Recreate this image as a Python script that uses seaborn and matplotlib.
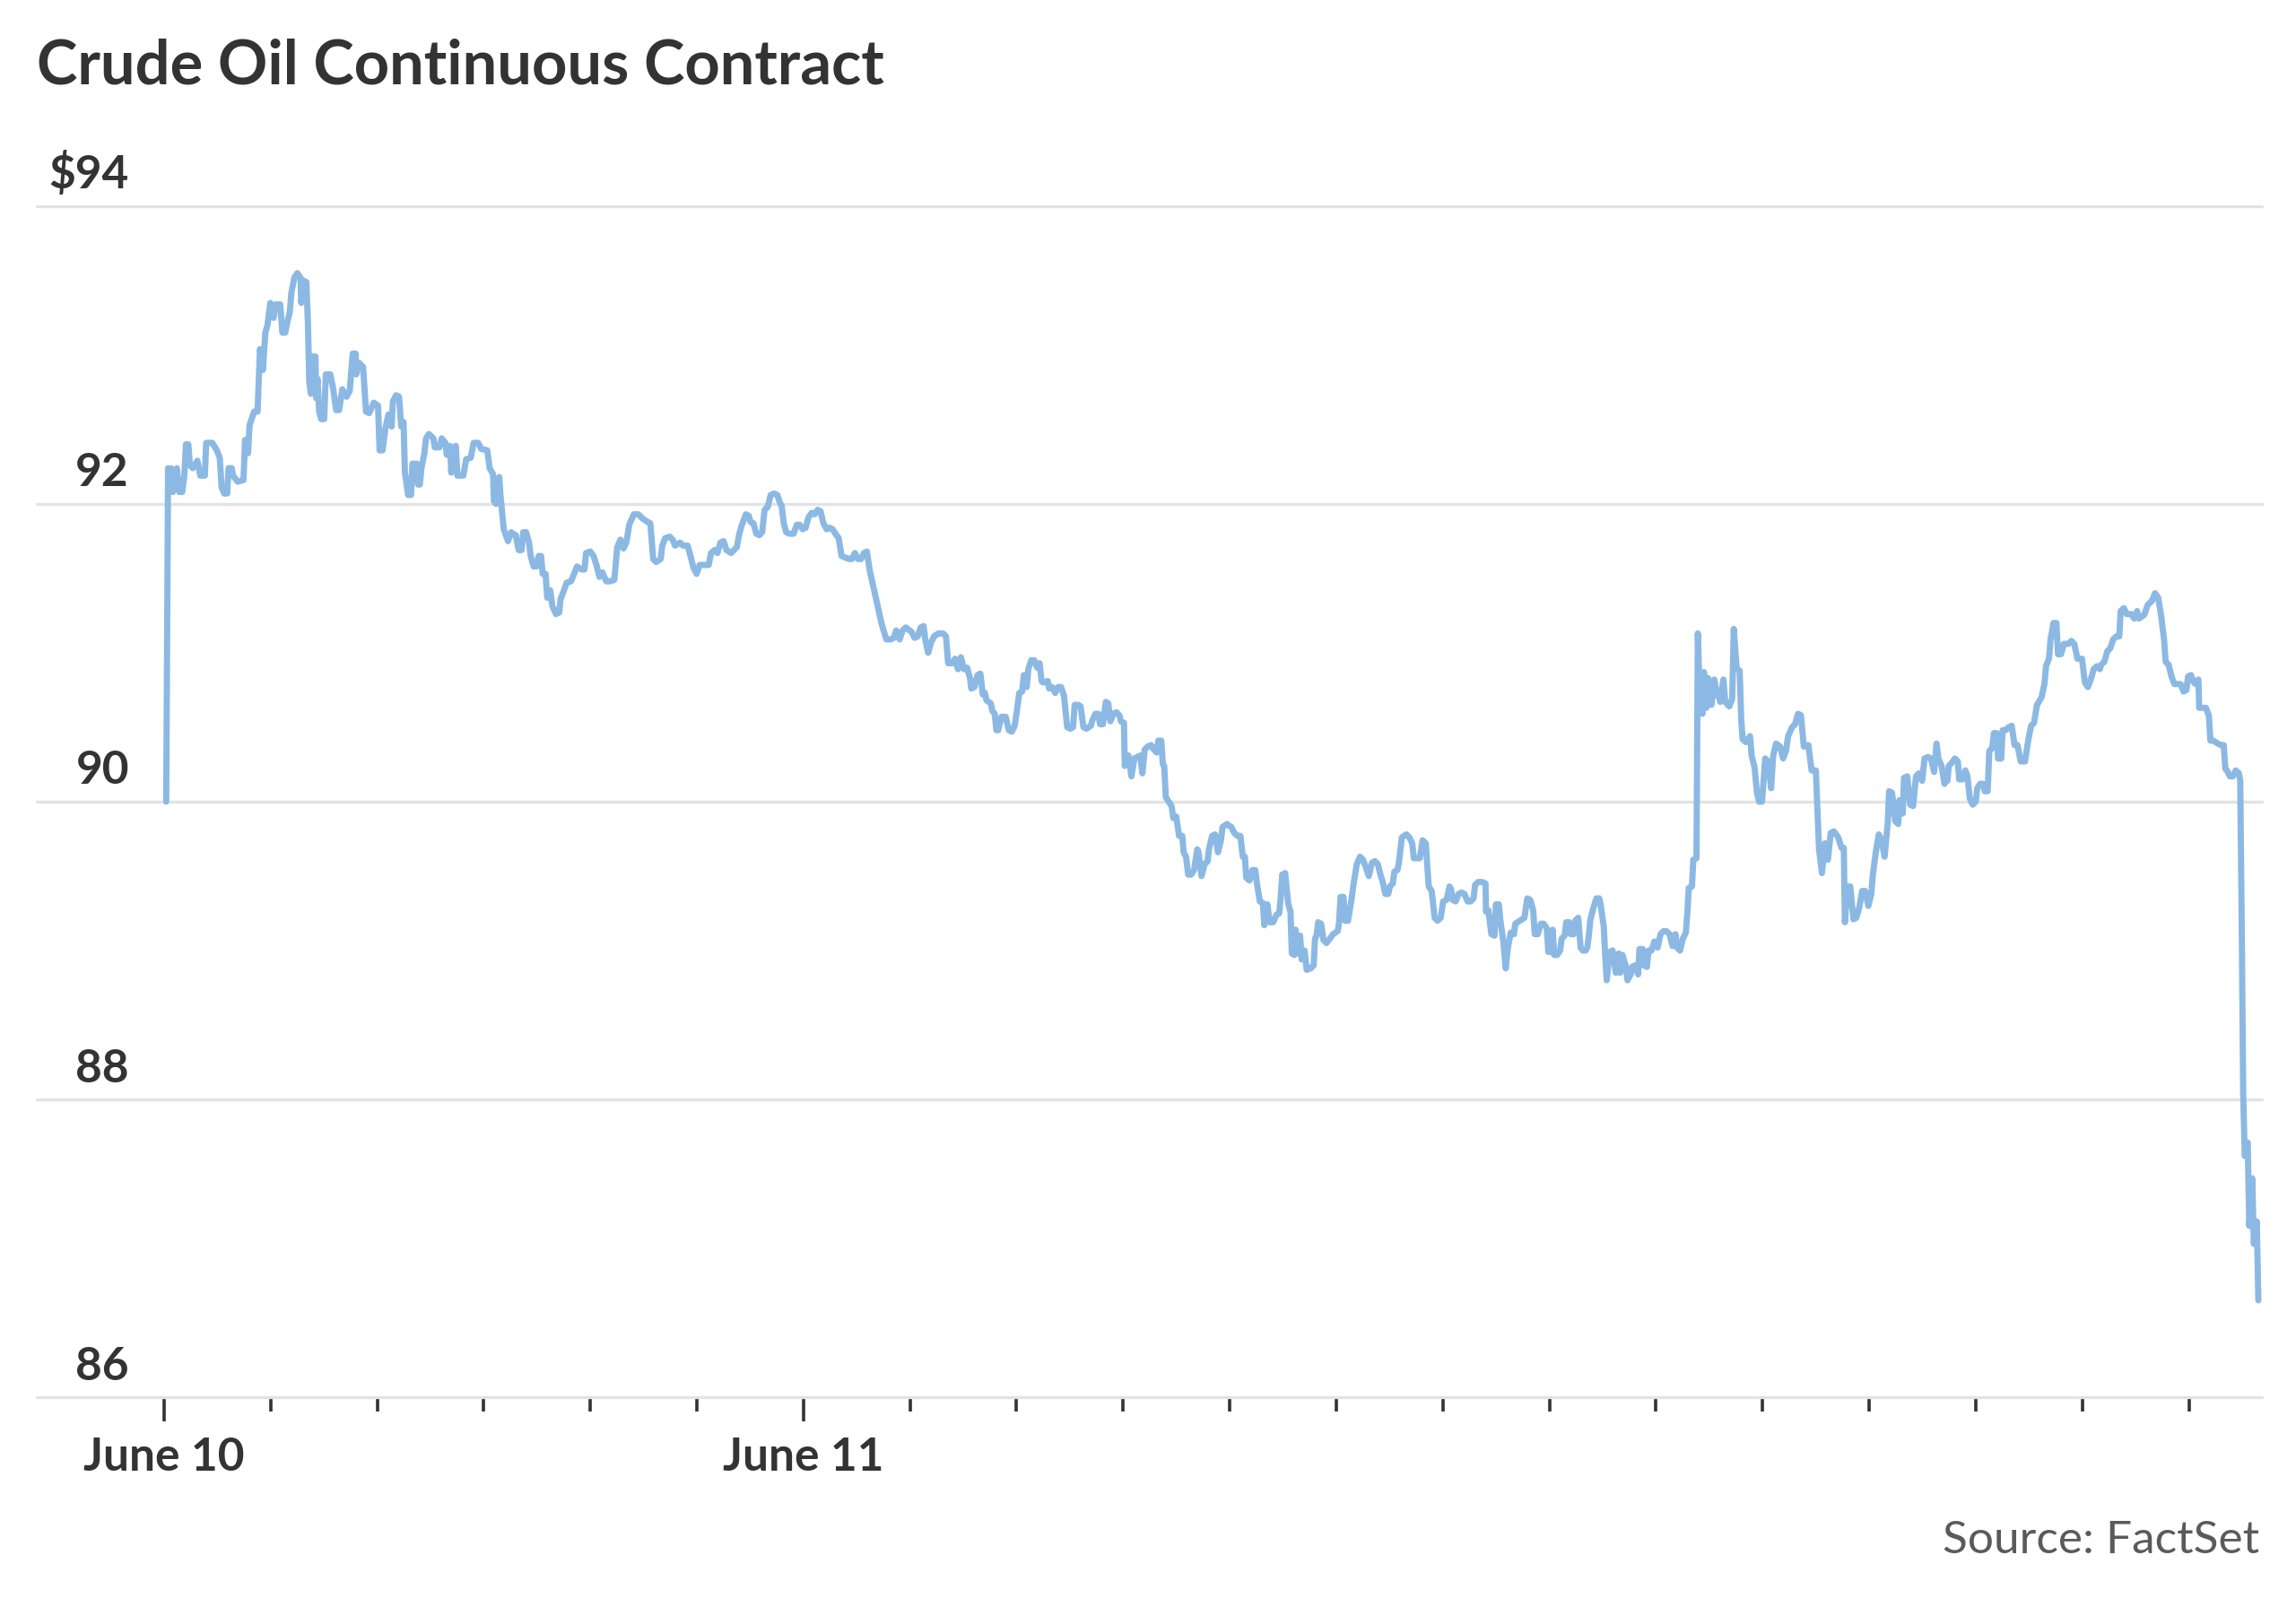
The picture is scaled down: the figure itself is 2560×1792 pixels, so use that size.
import pandas as pd
import seaborn as sns
import matplotlib.pyplot as plt
import matplotlib.transforms as mtransforms

# Crude oil price, as (hours since June 10 00:00, price $)
june10_early = [
    (0.08, 90.00), (0.15, 92.24), (0.18, 92.08), (0.26, 92.24), (0.33, 92.08), (0.40, 92.22),
    (0.48, 92.24), (0.57, 92.08), (0.68, 92.08), (0.76, 92.19), (0.82, 92.40), (0.91, 92.40),
    (0.97, 92.26), (1.08, 92.24), (1.25, 92.29), (1.36, 92.19), (1.53, 92.19), (1.58, 92.41),
    (1.81, 92.41), (1.98, 92.36), (2.09, 92.31), (2.16, 92.11), (2.26, 92.07), (2.37, 92.07),
    (2.42, 92.24), (2.54, 92.24), (2.59, 92.19), (2.76, 92.15), (2.98, 92.16), (3.04, 92.43),
    (3.15, 92.34), (3.21, 92.53), (3.38, 92.62), (3.51, 92.62), (3.54, 92.77), (3.60, 93.04),
    (3.71, 92.90), (3.80, 93.15), (3.88, 93.20), (3.99, 93.35), (4.11, 93.25), (4.18, 93.34),
    (4.36, 93.34), (4.44, 93.15), (4.55, 93.15), (4.61, 93.21), (4.72, 93.29), (4.78, 93.42),
    (4.89, 93.52), (5.00, 93.55), (5.12, 93.52), (5.15, 93.35), (5.23, 93.50), (5.34, 93.49),
    (5.40, 93.21), (5.45, 92.82), (5.51, 92.74), (5.57, 92.99), (5.68, 92.99), (5.71, 92.71),
    (5.76, 92.84), (5.82, 92.62), (5.90, 92.57), (6.01, 92.57), (6.07, 92.87), (6.24, 92.87),
    (6.35, 92.77), (6.46, 92.63), (6.57, 92.63), (6.69, 92.77), (6.85, 92.72), (6.97, 92.76),
    (7.08, 93.01), (7.19, 93.01), (7.21, 92.87), (7.30, 92.95), (7.47, 92.92), (7.58, 92.62),
    (7.70, 92.61), (7.87, 92.68), (8.03, 92.66), (8.09, 92.36), (8.20, 92.36), (8.31, 92.51),
    (8.42, 92.60), (8.54, 92.52), (8.59, 92.69), (8.71, 92.73), (8.82, 92.72), (8.90, 92.52),
    (8.99, 92.55), (9.04, 92.21), (9.16, 92.06), (9.27, 92.06), (9.32, 92.27), (9.49, 92.27),
    (9.53, 92.13), (9.60, 92.13), (9.66, 92.24), (9.77, 92.34), (9.83, 92.44), (9.94, 92.47),
    (10.11, 92.44), (10.16, 92.38), (10.33, 92.38), (10.42, 92.44), (10.56, 92.41), (10.61, 92.33),
    (10.73, 92.39), (10.78, 92.21), (10.84, 92.30), (10.95, 92.39), (11.01, 92.19), (11.23, 92.19),
    (11.34, 92.30), (11.51, 92.31), (11.62, 92.41), (11.79, 92.41), (11.90, 92.37), (12.13, 92.36),
    (12.22, 92.24), (12.35, 92.20), (12.38, 92.02), (12.46, 92.00), (12.58, 92.18), (12.63, 92.05),
    (12.75, 91.83), (12.91, 91.75),
]

june10_late = [
    (13.03, 91.81), (13.09, 91.80), (13.20, 91.79), (13.31, 91.69), (13.42, 91.69), (13.48, 91.81),
    (13.59, 91.81), (13.70, 91.74), (13.76, 91.65), (13.87, 91.58), (13.98, 91.58), (14.06, 91.65),
    (14.15, 91.65), (14.21, 91.53), (14.32, 91.53), (14.38, 91.37), (14.49, 91.42), (14.58, 91.31),
    (14.71, 91.26), (14.83, 91.27), (14.88, 91.36), (14.99, 91.41), (15.11, 91.47), (15.27, 91.48),
    (15.39, 91.53), (15.50, 91.58), (15.67, 91.56), (15.78, 91.56), (15.84, 91.67), (16.00, 91.68),
    (16.12, 91.65), (16.23, 91.59), (16.34, 91.51), (16.45, 91.54), (16.60, 91.48), (16.73, 91.48),
    (16.90, 91.49), (17.01, 91.71), (17.13, 91.76), (17.24, 91.70), (17.35, 91.74), (17.46, 91.86),
    (17.63, 91.93), (17.80, 91.93), (17.97, 91.90), (18.14, 91.88), (18.25, 91.87), (18.36, 91.63),
    (18.47, 91.61), (18.64, 91.63), (18.70, 91.72), (18.81, 91.77), (18.98, 91.78), (19.09, 91.76),
    (19.18, 91.72), (19.37, 91.74), (19.48, 91.72), (19.65, 91.72), (19.76, 91.65), (19.87, 91.57),
    (19.99, 91.53), (20.10, 91.59), (20.21, 91.59), (20.44, 91.59), (20.53, 91.67), (20.66, 91.69),
    (20.77, 91.67), (20.88, 91.74), (21.00, 91.75), (21.11, 91.69), (21.28, 91.67), (21.39, 91.69),
    (21.50, 91.71), (21.58, 91.79), (21.67, 91.85), (21.84, 91.93), (21.95, 91.92), (22.01, 91.88),
    (22.12, 91.87), (22.23, 91.80), (22.34, 91.79), (22.45, 91.81), (22.54, 91.96), (22.66, 91.98),
    (22.77, 92.06), (22.90, 92.07), (23.02, 92.06), (23.13, 92.00), (23.18, 91.99), (23.26, 91.87),
    (23.35, 91.81), (23.46, 91.80), (23.63, 91.80), (23.75, 91.86), (23.86, 91.86), (23.97, 91.83),
]

june11_early = [
    (24.08, 91.84), (24.19, 91.91), (24.31, 91.94), (24.42, 91.93), (24.53, 91.96), (24.64, 91.95),
    (24.75, 91.87), (24.87, 91.83), (24.98, 91.84), (25.09, 91.83), (25.20, 91.80), (25.32, 91.77),
    (25.43, 91.65), (25.57, 91.64), (25.71, 91.63), (25.82, 91.63), (25.93, 91.67), (26.05, 91.63),
    (26.16, 91.63), (26.27, 91.67), (26.38, 91.68), (26.49, 91.55), (26.94, 91.19), (27.11, 91.09),
    (27.28, 91.09), (27.39, 91.10), (27.48, 91.15), (27.61, 91.09), (27.72, 91.15), (27.84, 91.17),
    (28.06, 91.14), (28.17, 91.10), (28.29, 91.11), (28.40, 91.17), (28.51, 91.18), (28.57, 91.09),
    (28.68, 91.00), (28.79, 91.07), (28.90, 91.11), (29.07, 91.13), (29.24, 91.13), (29.35, 91.11),
    (29.43, 90.93), (29.58, 90.93), (29.69, 90.96), (29.80, 90.89), (29.91, 90.97), (30.02, 90.89),
    (30.14, 90.90), (30.25, 90.83), (30.30, 90.76), (30.42, 90.77), (30.53, 90.85), (30.64, 90.86),
    (30.73, 90.72), (30.81, 90.73), (30.87, 90.68), (31.03, 90.66), (31.09, 90.61), (31.18, 90.59),
    (31.24, 90.48), (31.31, 90.48), (31.43, 90.57), (31.59, 90.57), (31.71, 90.48), (31.82, 90.47),
    (31.93, 90.51), (32.01, 90.61), (32.10, 90.73), (32.21, 90.74), (32.27, 90.85), (32.38, 90.77),
    (32.44, 90.89), (32.55, 90.95), (32.66, 90.95), (32.77, 90.90), (32.86, 90.93), (32.94, 90.81),
    (33.00, 90.80), (33.17, 90.81), (33.22, 90.76), (33.33, 90.77), (33.45, 90.73), (33.56, 90.77),
    (33.67, 90.77), (33.78, 90.71), (33.90, 90.50), (34.01, 90.49), (34.12, 90.50), (34.18, 90.65),
    (34.32, 90.65), (34.40, 90.64), (34.51, 90.50), (34.62, 90.49), (34.79, 90.51), (34.85, 90.55),
    (34.96, 90.59), (35.07, 90.59), (35.13, 90.52), (35.24, 90.52), (35.35, 90.67), (35.44, 90.66),
    (35.52, 90.54), (35.63, 90.59), (35.75, 90.60), (35.86, 90.58), (35.91, 90.54), (36.03, 90.53),
    (36.06, 90.24), (36.14, 90.31), (36.20, 90.31), (36.31, 90.17), (36.42, 90.29), (36.53, 90.30),
    (36.64, 90.31), (36.72, 90.19), (36.81, 90.35), (36.92, 90.37), (37.04, 90.38), (37.15, 90.35),
    (37.26, 90.33), (37.32, 90.41), (37.43, 90.41), (37.49, 90.25), (37.54, 90.24), (37.60, 90.03),
    (37.71, 90.00), (37.82, 89.97), (37.88, 89.89), (37.99, 89.90), (38.10, 89.77), (38.22, 89.77),
    (38.27, 89.66), (38.36, 89.63), (38.44, 89.51), (38.55, 89.51), (38.66, 89.54), (38.78, 89.68),
    (38.83, 89.66), (38.94, 89.50), (39.06, 89.58), (39.17, 89.60), (39.22, 89.68), (39.34, 89.77),
    (39.45, 89.78), (39.56, 89.66), (39.67, 89.74), (39.73, 89.83), (39.90, 89.85),
]

june11_late = [
    (39.95, 89.84), (40.06, 89.83), (40.17, 89.79), (40.29, 89.77), (40.40, 89.77), (40.49, 89.63),
    (40.57, 89.63), (40.62, 89.49), (40.74, 89.47), (40.85, 89.54), (40.96, 89.54), (41.02, 89.45),
    (41.13, 89.33), (41.24, 89.32), (41.30, 89.17), (41.41, 89.31), (41.50, 89.19), (41.63, 89.19),
    (41.75, 89.24), (41.86, 89.25), (41.91, 89.35), (41.97, 89.51), (42.08, 89.52), (42.19, 89.32),
    (42.28, 89.26), (42.33, 88.98), (42.42, 88.97), (42.47, 89.14), (42.55, 88.98), (42.64, 89.10),
    (42.70, 88.94), (42.81, 89.00), (42.89, 88.87), (43.04, 88.88), (43.15, 88.90), (43.20, 89.08),
    (43.26, 89.10), (43.32, 89.19), (43.43, 89.18), (43.52, 89.07), (43.63, 89.05), (43.76, 89.08),
    (43.88, 89.11), (44.05, 89.13), (44.10, 89.18), (44.16, 89.36), (44.27, 89.36), (44.33, 89.20),
    (44.44, 89.20), (44.55, 89.32), (44.66, 89.46), (44.77, 89.58), (44.89, 89.63), (45.00, 89.61),
    (45.11, 89.56), (45.22, 89.50), (45.34, 89.59), (45.45, 89.60), (45.56, 89.58), (45.67, 89.50),
    (45.73, 89.47), (45.84, 89.38), (45.95, 89.38), (46.01, 89.43), (46.12, 89.45), (46.18, 89.53),
    (46.29, 89.54), (46.35, 89.59), (46.46, 89.76), (46.63, 89.78), (46.74, 89.76), (46.85, 89.72),
    (46.91, 89.62), (47.02, 89.62), (47.13, 89.62), (47.24, 89.74), (47.36, 89.72), (47.41, 89.58),
    (47.47, 89.43), (47.58, 89.40), (47.69, 89.22), (47.80, 89.20), (47.92, 89.22),
]

june12_early = [
    (48.01, 89.33), (48.14, 89.34), (48.25, 89.43), (48.31, 89.41), (48.37, 89.34), (48.48, 89.33),
    (48.59, 89.38), (48.70, 89.39), (48.81, 89.38), (48.93, 89.33), (49.04, 89.33), (49.15, 89.35),
    (49.21, 89.44), (49.32, 89.46), (49.49, 89.46), (49.60, 89.45), (49.62, 89.26), (49.71, 89.27),
    (49.82, 89.11), (49.94, 89.10), (49.99, 89.31), (50.10, 89.31), (50.16, 89.20), (50.27, 89.06),
    (50.36, 88.88), (50.44, 89.02), (50.55, 89.12), (50.67, 89.11), (50.72, 89.18), (50.89, 89.20),
    (51.06, 89.22), (51.17, 89.35), (51.28, 89.34), (51.39, 89.27), (51.45, 89.11), (51.56, 89.11),
    (51.68, 89.18), (51.79, 89.18), (51.90, 89.15), (51.96, 88.99), (52.07, 88.99), (52.12, 89.14),
    (52.18, 88.97), (52.29, 88.97), (52.40, 89.00), (52.46, 89.08), (52.57, 89.10), (52.63, 89.19),
    (52.74, 89.19), (52.80, 89.11), (52.91, 89.11), (52.97, 89.20), (53.08, 89.22), (53.17, 89.02),
    (53.25, 89.00), (53.36, 89.00), (53.42, 89.02), (53.48, 89.10), (53.53, 89.20), (53.64, 89.28),
    (53.76, 89.35), (53.87, 89.35), (53.92, 89.31), (54.04, 89.16), (54.09, 88.98), (54.15, 88.80),
    (54.26, 88.99), (54.37, 89.00), (54.49, 88.85), (54.60, 88.98), (54.65, 88.85), (54.74, 88.97),
    (54.86, 88.90), (54.93, 88.80), (55.05, 88.84), (55.10, 88.89), (55.22, 88.90), (55.33, 88.84),
    (55.38, 89.01), (55.50, 89.01), (55.55, 88.90), (55.66, 88.89), (55.72, 89.00), (55.83, 89.00),
    (55.94, 89.06), (56.06, 89.02), (56.17, 89.11), (56.28, 89.13), (56.39, 89.13), (56.51, 89.11),
    (56.62, 89.03), (56.73, 89.11), (56.79, 89.02), (56.90, 89.00), (57.01, 89.08), (57.12, 89.12),
    (57.18, 89.26), (57.23, 89.42), (57.35, 89.43), (57.40, 89.61), (57.52, 89.62), (57.57, 91.13),
    (57.63, 90.77), (57.74, 90.59), (57.80, 90.87), (57.89, 90.63), (57.96, 90.83), (58.08, 90.65),
    (58.19, 90.82), (58.30, 90.71), (58.36, 90.74), (58.41, 90.67), (58.53, 90.82), (58.60, 90.67),
    (58.75, 90.64), (58.86, 90.69), (58.92, 91.16), (59.03, 90.89), (59.14, 90.88), (59.20, 90.55),
    (59.25, 90.42), (59.37, 90.40), (59.53, 90.44), (59.59, 90.31), (59.70, 90.23), (59.79, 90.06),
    (59.87, 90.00), (59.98, 90.00), (60.10, 90.29), (60.21, 90.27), (60.32, 90.09), (60.40, 90.31),
    (60.51, 90.39), (60.66, 90.37), (60.77, 90.29), (60.88, 90.34), (60.96, 90.44), (61.11, 90.50),
    (61.22, 90.52), (61.33, 90.59), (61.44, 90.58), (61.55, 90.37), (61.72, 90.38), (61.84, 90.21),
    (62.00, 90.21), (62.12, 89.68), (62.23, 89.52), (62.34, 89.72), (62.45, 89.61), (62.56, 89.79),
    (62.68, 89.80), (62.84, 89.76), (62.96, 89.69), (63.05, 89.69), (63.09, 89.19), (63.18, 89.43),
    (63.29, 89.43), (63.41, 89.21), (63.52, 89.22), (63.63, 89.29), (63.74, 89.40), (63.85, 89.40),
    (63.97, 89.30), (64.08, 89.38), (64.14, 89.51), (64.25, 89.66), (64.36, 89.78), (64.47, 89.74),
    (64.58, 89.63), (64.70, 89.86), (64.75, 90.07), (64.86, 90.06), (64.98, 89.87), (65.09, 89.85),
    (65.14, 90.01), (65.26, 89.92), (65.31, 90.16), (65.43, 90.17), (65.54, 89.98), (65.65, 89.97),
    (65.76, 90.17), (65.87, 90.19), (65.99, 90.14), (66.08, 90.29), (66.21, 90.30), (66.32, 90.29),
    (66.44, 90.20), (66.53, 90.39), (66.60, 90.29), (66.72, 90.24), (66.83, 90.12),
]

june12_late = [
    (66.88, 90.17), (66.94, 90.14), (66.99, 90.24), (67.10, 90.26), (67.22, 90.29), (67.33, 90.27),
    (67.38, 90.15), (67.50, 90.15), (67.61, 90.21), (67.69, 90.17), (67.78, 90.02), (67.89, 89.98),
    (68.00, 90.00), (68.06, 90.09), (68.17, 90.12), (68.28, 90.12), (68.34, 90.07), (68.45, 90.07),
    (68.51, 90.34), (68.62, 90.36), (68.68, 90.46), (68.79, 90.46), (68.84, 90.29), (68.96, 90.29),
    (69.01, 90.48), (69.12, 90.48), (69.24, 90.50), (69.35, 90.51), (69.46, 90.38), (69.57, 90.38),
    (69.69, 90.27), (69.85, 90.27), (69.97, 90.41), (70.08, 90.51), (70.19, 90.53), (70.30, 90.65),
    (70.47, 90.70), (70.58, 90.79), (70.64, 90.91), (70.75, 90.96), (70.81, 91.09), (70.92, 91.20),
    (71.03, 91.20), (71.09, 90.99), (71.20, 90.99), (71.31, 91.06), (71.48, 91.06), (71.59, 91.08),
    (71.70, 91.06), (71.82, 90.96), (71.99, 90.96), (72.10, 90.80), (72.21, 90.77), (72.32, 90.82),
    (72.43, 90.89), (72.55, 90.91), (72.66, 90.89), (72.71, 90.92), (72.83, 90.94), (72.94, 91.01),
    (73.05, 91.03), (73.16, 91.09), (73.28, 91.11), (73.39, 91.11), (73.44, 91.28), (73.56, 91.30),
    (73.67, 91.26), (73.84, 91.26), (73.95, 91.23), (74.06, 91.28), (74.12, 91.23), (74.29, 91.25),
    (74.34, 91.26), (74.45, 91.32), (74.62, 91.35), (74.73, 91.40), (74.85, 91.37), (74.96, 91.25),
    (75.07, 91.09), (75.13, 90.94), (75.24, 90.92), (75.35, 90.84), (75.46, 90.79), (75.58, 90.79),
    (75.69, 90.79), (75.80, 90.74), (75.91, 90.75), (75.97, 90.84), (76.08, 90.85), (76.19, 90.80),
    (76.25, 90.79), (76.36, 90.82), (76.39, 90.63), (76.53, 90.63), (76.64, 90.63), (76.75, 90.58),
    (76.81, 90.41), (76.92, 90.41), (77.09, 90.39), (77.20, 90.38), (77.31, 90.38), (77.37, 90.22),
    (77.43, 90.21), (77.54, 90.17), (77.65, 90.17), (77.76, 90.21), (77.88, 90.19), (77.93, 90.14),
    (77.99, 89.08), (78.04, 88.05), (78.10, 87.62), (78.21, 87.71), (78.27, 87.15), (78.38, 87.47),
    (78.44, 87.03), (78.55, 87.18), (78.61, 86.65),
]

y_ticks = [86, 88, 90, 92, 94]
y_labels = ["86", "88", "90", "92", "$94"]
x_major = [0, 24]
x_labels = ["June 10", "June 11"]
title = "Crude Oil Continuous Contract"
source = "Source: FactSet"

df = pd.DataFrame(june10_early + june10_late + june11_early + june11_late
                  + june12_early + june12_late, columns=["hours", "price"])

sns.set_theme(style="white")
plt.rcParams["font.family"] = ["Lato", "DejaVu Sans"]

dark = "#333333"
fig = plt.figure(figsize=(12.8, 8.96), dpi=200)
ax = fig.add_axes([0.016, 0.1306, 0.969, 0.7411])

sns.lineplot(data=df, x="hours", y="price", ax=ax, color="#8cb9e3",
             linewidth=2.5, estimator=None, sort=False)

ax.set_xlim(-4.78, 78.73)
ax.set_ylim(86, 94)
ax.set_xlabel("")
ax.set_ylabel("")
for s in ax.spines.values():
    s.set_visible(False)

# horizontal grid only, labels sit above the lines on the left
ax.set_axisbelow(True)
ax.set_yticks(y_ticks)
ax.set_yticklabels([])
ax.tick_params(axis="y", length=0)
ax.yaxis.grid(True, color="#e3e3e3", linewidth=1.2)
ax.xaxis.grid(False)
for gl in ax.get_ygridlines():
    gl.set_clip_on(False)

lab_trans = mtransforms.blended_transform_factory(ax.transAxes, ax.transData) \
    + mtransforms.ScaledTranslation(0, 7 / 72, fig.dpi_scale_trans)
for v, lab in zip(y_ticks, y_labels):
    ax.text(0.0415, v, lab, transform=lab_trans, ha="right", va="baseline",
            fontsize=18.5, fontweight="bold", color=dark)

# x ticks every 4 hours, only the day starts labelled
minor = [h for h in range(4, 80, 4) if h not in x_major]
ax.set_xticks(x_major)
ax.set_xticklabels(x_labels)
ax.set_xticks(minor, minor=True)
ax.tick_params(axis="x", which="both", bottom=True, direction="out",
               color=dark, width=1.3)
ax.tick_params(axis="x", which="major", length=9.7, pad=6,
               labelsize=18.5, labelcolor=dark)
ax.tick_params(axis="x", which="minor", length=5.8)
for lbl in ax.get_xticklabels():
    lbl.set_fontweight("bold")

fig.text(0.016, 0.948, title, ha="left", va="baseline", fontsize=24.7,
         fontweight="bold", color=dark)
fig.text(0.984, 0.0335, source, ha="right", va="baseline", fontsize=18.5,
         color="#5a5a5a")

fig.savefig("out.png", dpi=200)
